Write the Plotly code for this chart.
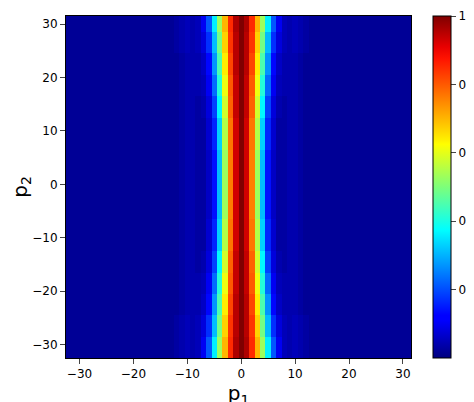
import plotly.graph_objects as go

# p1 / p2 grid (one cell per unit)
p1 = list(range(-32, 32))
p2 = list(range(-32, 32))

# intensity vs |p1| = 0..12 for bands of |p2|
band_limits = [6, 12, 16, 20, 24, 28, 32]
band_profiles = [
    [1.0, 0.93, 0.76, 0.53, 0.31, 0.14, 0.06, 0.03, 0.03, 0.04, 0.04, 0.03, 0.02],
    [1.0, 0.93, 0.77, 0.55, 0.33, 0.16, 0.07, 0.03, 0.03, 0.04, 0.04, 0.03, 0.02],
    [1.0, 0.94, 0.79, 0.58, 0.37, 0.19, 0.08, 0.04, 0.03, 0.04, 0.04, 0.03, 0.02],
    [1.0, 0.94, 0.80, 0.61, 0.41, 0.23, 0.10, 0.05, 0.04, 0.04, 0.04, 0.03, 0.02],
    [1.0, 0.95, 0.82, 0.64, 0.45, 0.27, 0.13, 0.06, 0.04, 0.04, 0.04, 0.03, 0.02],
    [1.0, 0.95, 0.84, 0.67, 0.49, 0.31, 0.17, 0.08, 0.05, 0.04, 0.05, 0.04, 0.03],
    [1.0, 0.96, 0.85, 0.70, 0.53, 0.36, 0.21, 0.10, 0.05, 0.04, 0.05, 0.04, 0.03],
]
background = 0.02

z = []
for y in p2:
    band = next(i for i, lim in enumerate(band_limits) if abs(y) <= lim)
    prof = band_profiles[band]
    z.append([prof[abs(x)] if abs(x) < len(prof) else background for x in p1])

jet = [[0, "#00007f"], [0.11, "#0000ff"], [0.125, "#0000ff"], [0.35, "#00e5ff"],
       [0.375, "#00ffff"], [0.5, "#7dff7a"], [0.625, "#ffff00"], [0.64, "#ffee00"],
       [0.875, "#ff1300"], [0.91, "#e80000"], [1, "#7f0000"]]

fig = go.Figure(go.Heatmap(
    x=p1, y=p2, z=z, zmin=0, zmax=1, colorscale=jet,
    colorbar=dict(thickness=18, len=1.0, xref="container", x=425 / 474, xanchor="left",
                  xpad=0, ypad=0,
                  tickvals=[0.2, 0.4, 0.6, 0.8, 1.0], ticktext=["0.2", "0.4", "0.6", "0.8", "1.0"],
                  ticks="outside", outlinewidth=1, outlinecolor="black",
                  tickfont=dict(size=12, family="DejaVu Sans")),
))

axis = dict(tickvals=[-30, -20, -10, 0, 10, 20, 30], ticks="outside", showgrid=False,
            zeroline=False, showline=True, linecolor="black", mirror=True,
            tickfont=dict(size=12, family="DejaVu Sans", color="black"))
fig.update_xaxes(range=[-32.5, 31.5], title=dict(text="p<sub>1</sub>", font=dict(size=20, family="DejaVu Sans"), standoff=2), **axis)
fig.update_yaxes(range=[-32.5, 31.5], title=dict(text="p<sub>2</sub>", font=dict(size=20, family="DejaVu Sans"), standoff=4), **axis)
fig.update_layout(width=474, height=402, margin=dict(l=58, r=71, t=8, b=52, autoexpand=False),
                  plot_bgcolor="white", paper_bgcolor="white", font=dict(color="black"))

fig.write_html("out.html")
